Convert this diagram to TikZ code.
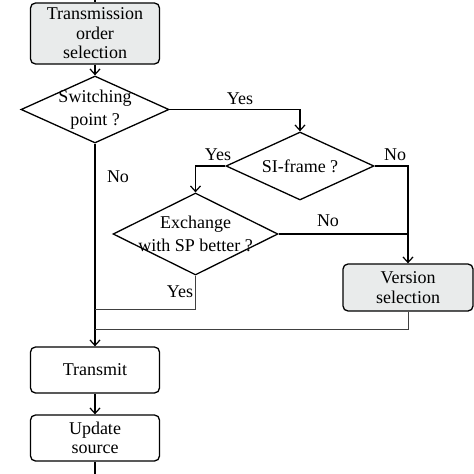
\documentclass[tikz,border=0pt]{standalone}
\usepackage{fontspec}
\setmainfont{Liberation Serif}
\usetikzlibrary{shapes.geometric,arrows.meta}
\definecolor{boxgray}{RGB}{233,235,235}
\tikzset{
  every node/.style={font=\fontsize{18pt}{19.5pt}\selectfont, text=black},
  procbox/.style={draw, line width=1.3pt, rounded corners=5pt, minimum width=129pt, align=center, inner sep=0pt},
  grayfill/.style={fill=boxgray},
  dia/.style={draw, diamond, line width=1.3pt, inner sep=0pt},
  diatxt/.style={align=center, inner sep=0pt, font=\fontsize{18pt}{22.5pt}\selectfont},
  lbl/.style={inner sep=0pt},
  conn/.style={line width=1.3pt},
  arr/.style={conn, -{Straight Barb[length=5.5pt,width=10pt,line width=1.2pt]}},
  thin/.style={line width=1pt, draw=black!75}
}
\begin{document}
\begin{tikzpicture}[x=1pt,y=-1pt]
\useasboundingbox (0,0) rectangle (474,474);
% nodes
\node[procbox, grayfill, minimum height=61pt] (tos) at (95,33.5) {Transmission\\order\\selection};
\node[dia, minimum width=148pt, minimum height=67pt] (sp) at (95,109.5) {};
\node[diatxt] (spt) at (sp.center) {Switching\\point ?};
\node[dia, minimum width=148pt, minimum height=68pt] (si) at (300,166) {};
\node[diatxt] (sit) at (si.center) {SI-frame ?};
\node[dia, minimum width=165pt, minimum height=82pt] (ex) at (195.5,234) {};
\node[diatxt] (ext) at (ex.center) {Exchange\\with SP better ?};
\node[procbox, grayfill, minimum width=130pt, minimum height=47pt] (vs) at (408,287.5) {Version\\selection};
\node[procbox, minimum height=46pt] (tr) at (95,370) {Transmit};
\node[procbox, minimum height=46pt] (us) at (95,438) {Update\\source};
\coordinate (top) at (95,0);
\coordinate (bot) at (95,474);
\coordinate (exj) at (195.5,309);
\coordinate (exm) at (95,309);
\coordinate (vsj) at (408,329);
\coordinate (vsm) at (95,329);
% connectors
\draw[conn] (top) -- (tos.north);
\draw[arr] (tos.south) -- (sp.north);
\draw[arr] (sp.east) -| (si.north);
\draw[arr] (si.west) -| (ex.north);
\draw[arr] (si.east) -| (vs.north);
\draw[conn] (ex.east) -- (vs.north |- ex.east);
\draw[arr] (sp.south) -- (tr.north);
\draw[arr] (tr.south) -- (us.north);
\draw[conn] (us.south) -- (bot);
\draw[thin] (ex.south) -- (exj) -- (exm);
\draw[thin] (vs.south) -- (vsj) -- (vsm);
% labels
\node[lbl] (l1) at (240,99) {Yes};
\node[lbl] (l2) at (118,177) {No};
\node[lbl] (l3) at (218,155) {Yes};
\node[lbl] (l4) at (395,155) {No};
\node[lbl] (l5) at (328,221) {No};
\node[lbl] (l6) at (180,292) {Yes};
\end{tikzpicture}
\end{document}
